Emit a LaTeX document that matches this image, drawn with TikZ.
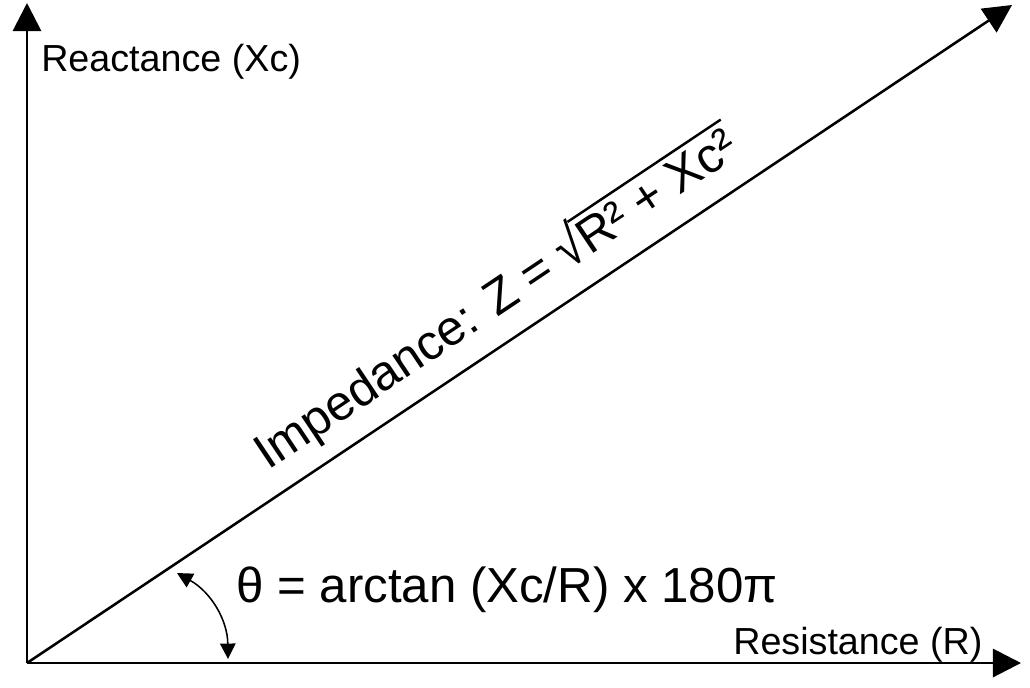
\documentclass[tikz,border=0pt]{standalone}
\usepackage{fontspec}
\usepackage{graphicx}
\setmainfont{Liberation Sans}
\usetikzlibrary{arrows.meta,positioning}

% root sign with its overline
\newcommand{\rootof}[1]{\scalebox{1}[1.14]{√}\kern-0.03em\vbox{\hrule height 0.05em \kern0.11em\hbox{#1}}}

\begin{document}
\begin{tikzpicture}[
    x=0.025cm, y=-0.025cm,
    axis/.style={line width=2.1pt, -{Triangle[length=20pt, width=20pt]}},
    vec/.style={line width=1.8pt, -{Triangle[length=20pt, width=20pt]}},
    anglearc/.style={line width=1.1pt, {Triangle[length=11pt, width=11pt]}-{Triangle[length=11pt, width=11pt]}},
    axislabel/.style={font=\fontsize{26.8}{30}\selectfont, inner sep=0pt, anchor=base west},
    biglabel/.style={font=\fontsize{35}{40}\selectfont, inner sep=0pt, anchor=base west}
]
\useasboundingbox (0,0) rectangle (1030,687);

% Points
\coordinate (origin) at (27,663);
\coordinate (ytip) at (27,3);
\coordinate (xtip) at (1021,663);
\coordinate (ztip) at (1012,5);
\coordinate (thetaA) at (177,573);
\coordinate (thetaB) at (228,659);

% Axes and impedance vector
\draw[axis] (origin) -- (ytip);
\draw[axis] (origin) -- (xtip);
\draw[vec] (origin) -- (ztip);

% Angle
\draw[anglearc] (thetaA) to[bend left=30] (thetaB);

% Labels
\node[axislabel] (yname) at (41,71) {Reactance (Xc)};
\node[axislabel] (xname) at (733,654) {Resistance (R)};
\node[biglabel] (theta) at (236,602) {θ = arctan (Xc/R) x 180π};
\node[biglabel, rotate=33.74] (zname) at (268,471) {Impedance: Z = \rootof{R² + Xc²\kern0.05em}};

\end{tikzpicture}
\end{document}
